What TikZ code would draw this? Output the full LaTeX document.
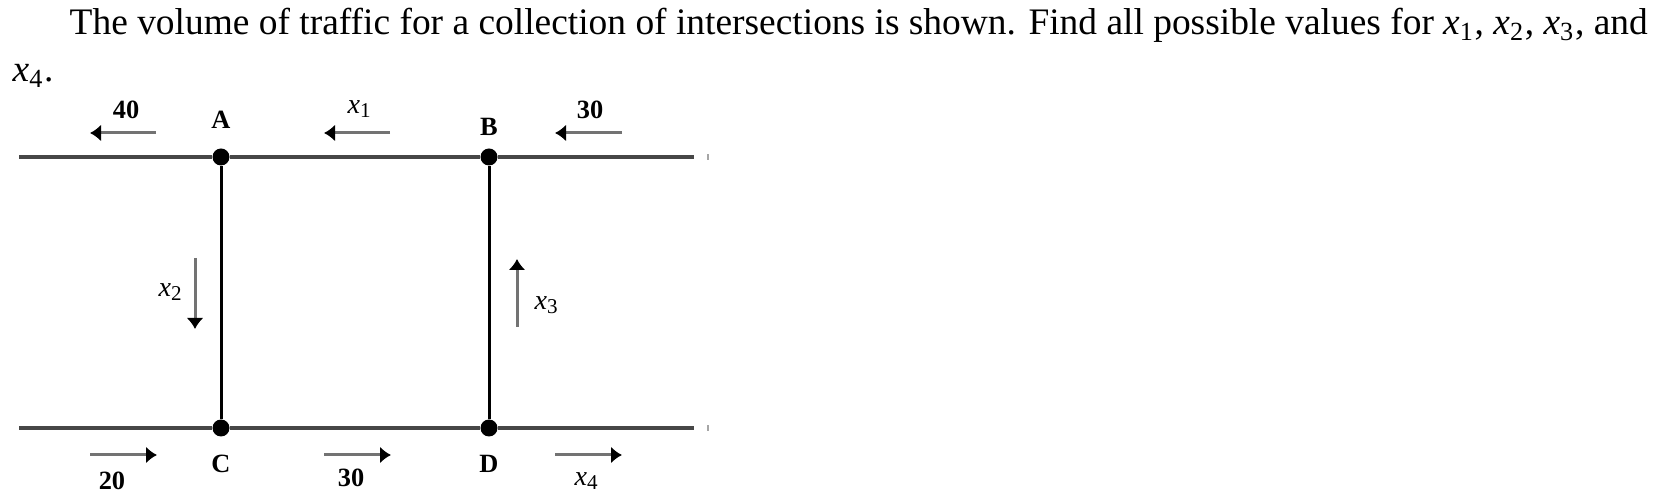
\documentclass[tikz,border=0pt]{standalone}
\usepackage{fontspec}
\setmainfont{Liberation Serif}
\usetikzlibrary{arrows.meta,calc}
\newcommand\flowvar[1]{\textit{x}\textsubscript{#1}}
\tikzset{>={Latex[length=0.11cm,width=0.17cm]},%
  road/.style={draw=black!72,line width=0.045cm},
  street/.style={draw=black,line width=0.03cm},
  flow/.style={-{Latex[length=0.11cm,width=0.17cm,fill=black,color=black]},draw=black!55,line width=0.03cm},
  junction/.style={circle,fill=black,inner sep=0pt,minimum size=0.17cm},
  lbl/.style={inner sep=0pt,font=\fontsize{7.5}{8}\selectfont\bfseries},
  var/.style={inner sep=0pt,font=\fontsize{8}{9}\selectfont}}

\begin{document}
\begin{tikzpicture}
    \useasboundingbox (0,0) rectangle (16.68,-4.97);
    % question
    \node[anchor=base west,inner sep=0pt,font=\fontsize{10.65}{13}\selectfont] (q1) at (0.69,-0.35)
    {The volume of traffic for a collection of intersections is shown. Find all possible values for \flowvar{1}, \flowvar{2}, \flowvar{3}, and};
    \node[anchor=base west,inner sep=0pt,font=\fontsize{10.65}{13}\selectfont] (q2) at (0.12,-0.82) {\flowvar{4}.};
    % intersections
    \node[junction] (A) at (2.21,-1.57) {};
    \node[junction] (B) at (4.89,-1.57) {};
    \node[junction] (C) at (2.21,-4.28) {};
    \node[junction] (D) at (4.89,-4.28) {};
    \coordinate (nw) at (0.19,-1.57);
    \coordinate (ne) at (6.94,-1.57);
    \coordinate (sw) at (0.19,-4.28);
    \coordinate (se) at (6.94,-4.28);
    \draw[road] (nw) -- (A) -- (B) -- (ne);
    \draw[road] (sw) -- (C) -- (D) -- (se);
    \draw[street] (A) -- (C);
    \draw[street] (B) -- (D);
    \fill[black!35] (7.07,-1.54) rectangle ++(0.02,-0.06);
    \fill[black!35] (7.07,-4.25) rectangle ++(0.02,-0.06);
    % intersection labels
    \node[lbl] (la) at (2.21,-1.20) {A};
    \node[lbl] (lb) at (4.89,-1.27) {B};
    \node[lbl] (lc) at (2.21,-4.64) {C};
    \node[lbl] (ld) at (4.89,-4.64) {D};
    % flows on top road
    \coordinate (f1s) at (1.56,-1.33); \coordinate (f1e) at (0.90,-1.33);
    \coordinate (f2s) at (3.90,-1.33); \coordinate (f2e) at (3.24,-1.33);
    \coordinate (f3s) at (6.22,-1.33); \coordinate (f3e) at (5.55,-1.33);
    \draw[flow] (f1s) -- (f1e);
    \draw[flow] (f2s) -- (f2e);
    \draw[flow] (f3s) -- (f3e);
    \node[lbl] (n40) at (1.26,-1.10) {40};
    \node[var] (nx1) at (3.60,-1.09) {\flowvar{1}};
    \node[lbl] (n30a) at (5.90,-1.10) {30};
    % flows on bottom road
    \coordinate (g1s) at (0.90,-4.55); \coordinate (g1e) at (1.57,-4.55);
    \coordinate (g2s) at (3.24,-4.55); \coordinate (g2e) at (3.91,-4.55);
    \coordinate (g3s) at (5.55,-4.55); \coordinate (g3e) at (6.22,-4.55);
    \draw[flow] (g1s) -- (g1e);
    \draw[flow] (g2s) -- (g2e);
    \draw[flow] (g3s) -- (g3e);
    \node[lbl] (n20) at (1.12,-4.81) {20};
    \node[lbl] (n30b) at (3.51,-4.78) {30};
    \node[var] (nx4) at (5.87,-4.81) {\flowvar{4}};
    % flows on the cross streets
    \coordinate (h1s) at (1.95,-2.58); \coordinate (h1e) at (1.95,-3.29);
    \coordinate (h2s) at (5.17,-3.27); \coordinate (h2e) at (5.17,-2.59);
    \draw[flow] (h1s) -- (h1e);
    \draw[flow] (h2s) -- (h2e);
    \node[var] (nx2) at (1.71,-2.92) {\flowvar{2}};
    \node[var] (nx3) at (5.47,-3.05) {\flowvar{3}};
\end{tikzpicture}
\end{document}
